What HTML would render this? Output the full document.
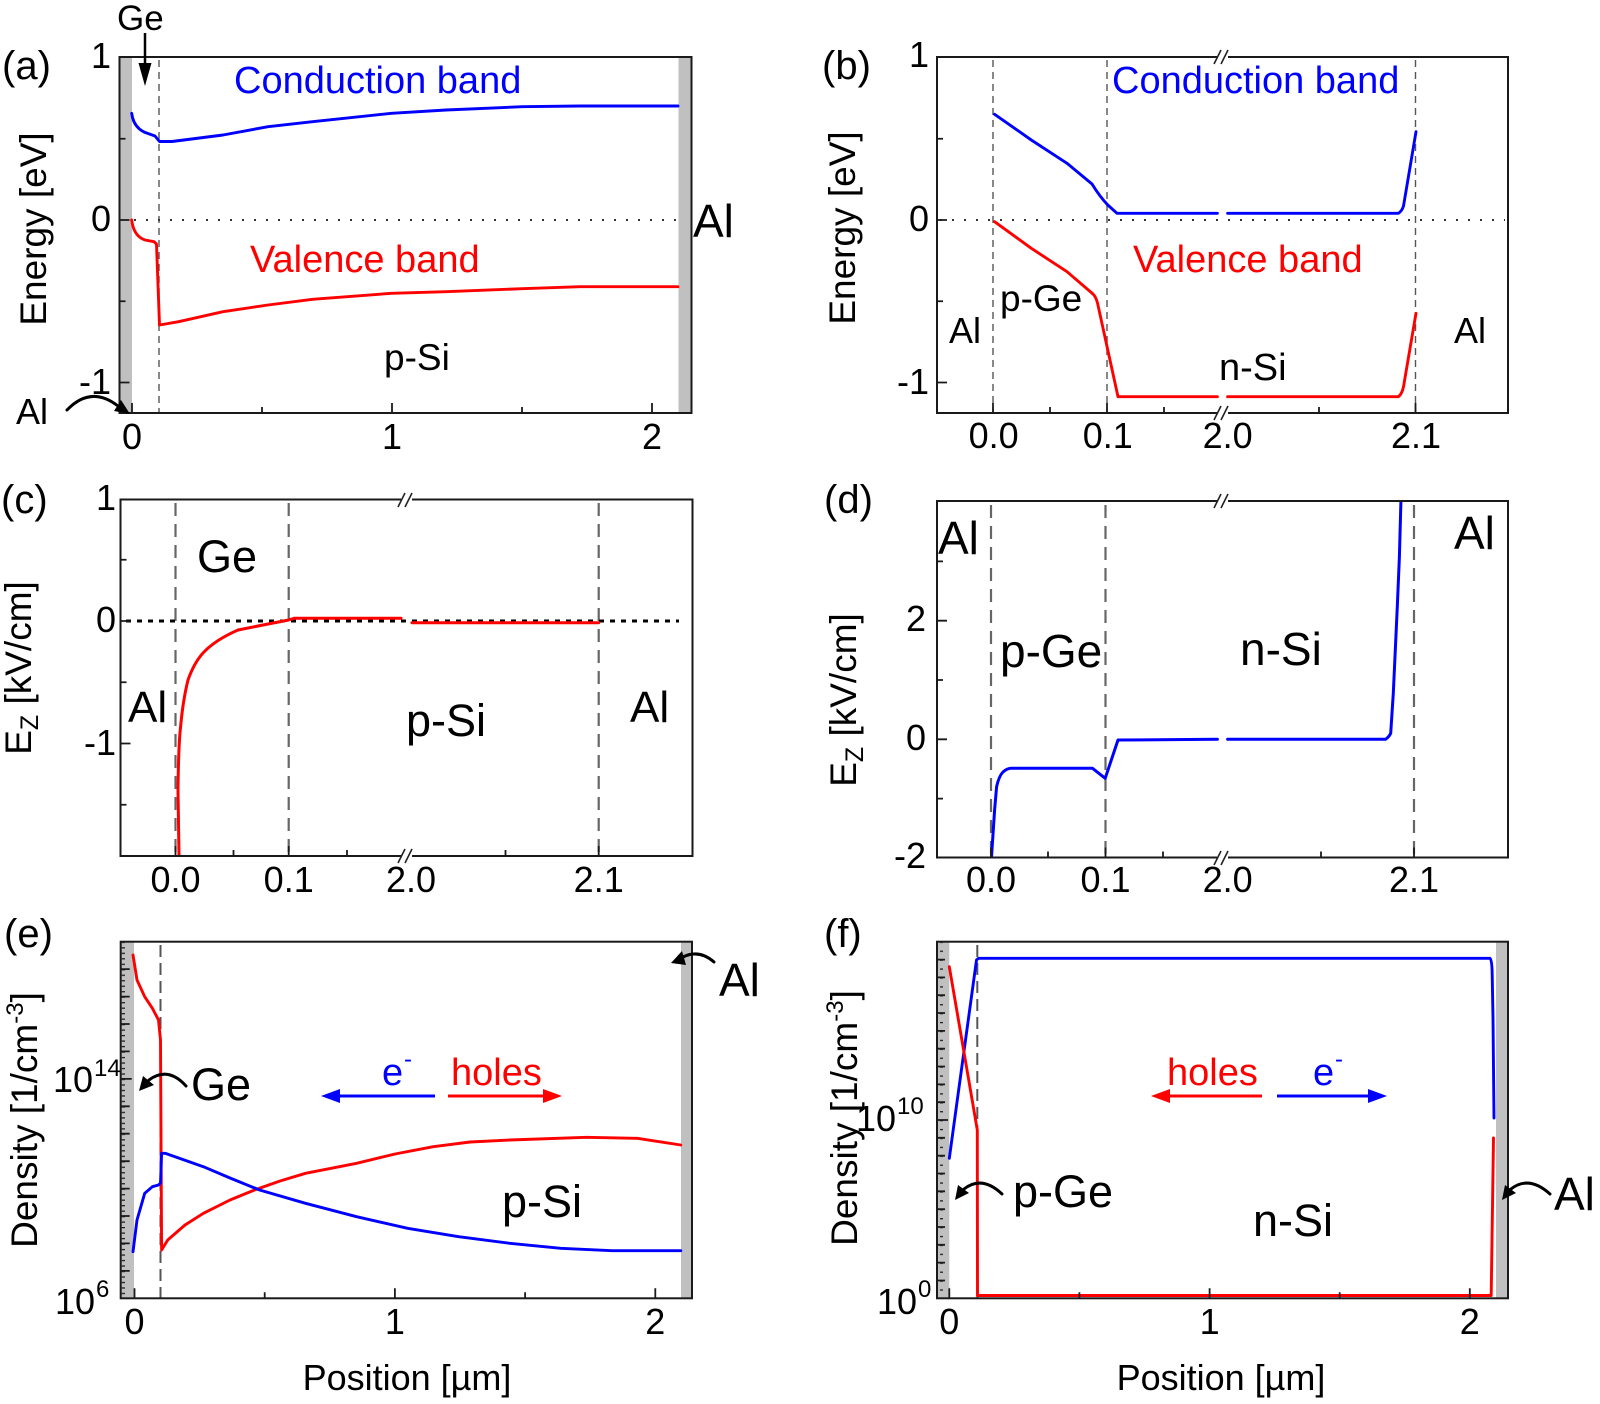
<!DOCTYPE html>
<html><head><meta charset="utf-8"><style>
html,body{margin:0;padding:0;background:#fff}
svg{display:block}
text{font-family:"Liberation Sans",Arial,sans-serif;fill:#000}
.fr{fill:none;stroke:#1a1a1a;stroke-width:2}
.tk{fill:none;stroke:#1a1a1a;stroke-width:1.8}
.b{fill:none;stroke:#0000ff;stroke-width:2.9;stroke-linejoin:round;stroke-linecap:round}
.r{fill:none;stroke:#ff0000;stroke-width:2.9;stroke-linejoin:round;stroke-linecap:round}
.g1{stroke:#555;stroke-width:1.4;stroke-dasharray:7 5;fill:none}
.g2{stroke:#666;stroke-width:2.2;stroke-dasharray:13 8;fill:none}
.dt{stroke:#333;stroke-width:2;stroke-dasharray:2 10;fill:none}
.t36{font-size:36px}
.ar{fill:none;stroke:#000;stroke-width:3;stroke-linecap:round}
</style></head><body>
<svg width="1600" height="1404" viewBox="0 0 1600 1404" xmlns="http://www.w3.org/2000/svg">
<defs>
<pattern id="pe" x="0" y="1298.3" width="20" height="5.486" patternUnits="userSpaceOnUse"><rect x="0" y="0" width="5" height="1.3" fill="#222"/></pattern>
<pattern id="pf" x="0" y="1298.3" width="20" height="8.915" patternUnits="userSpaceOnUse"><rect x="0" y="0" width="5" height="1.3" fill="#222"/></pattern>
</defs>
<rect width="1600" height="1404" fill="#fff"/>

<!-- ============ (a) ============ -->
<rect x="120.5" y="58" width="11.5" height="354" fill="#c0c0c0"/>
<rect x="678.5" y="58" width="13" height="354" fill="#c0c0c0"/>
<line class="g1" x1="159" y1="60" x2="159" y2="412"/>
<line class="dt" x1="134" y1="220" x2="678" y2="220"/>
<path class="b" d="M131.7,113.3 C133,124 139,130.5 147.3,133.3 L155,136 L159.5,141.5 L172,141.5 L223,135 L268,126.7 L312.5,121.7 L391.5,113.3 L446,110 L522,106.7 L580,106 L678,106"/>
<path class="r" d="M131.7,220 C133,231 137.5,237.5 145,240 L154,241.7 L156.5,244 L159.5,325 L178.6,321.7 L223,311.7 L268,305 L312.5,299.3 L391.5,293.3 L446,291.7 L522,288.7 L580,286.7 L678,286.7"/>
<rect class="fr" x="119.5" y="57" width="572" height="356"/>
<path class="tk" d="M132,413v-10M392,413v-10M652,413v-10M262,413v-6M522,413v-6M119.5,220h10M119.5,382.5h10M119.5,138.75h6M119.5,301.25h6"/>
<text x="2" y="79" style="font-size:40px">(a)</text>
<text class="t36" x="111" y="68" text-anchor="end">1</text>
<text class="t36" x="111" y="231" text-anchor="end">0</text>
<text class="t36" x="111" y="394" text-anchor="end">-1</text>
<text class="t36" x="132" y="449" text-anchor="middle">0</text>
<text class="t36" x="392" y="449" text-anchor="middle">1</text>
<text class="t36" x="652" y="449" text-anchor="middle">2</text>
<text transform="translate(46,229) rotate(-90)" text-anchor="middle" style="font-size:37px">Energy [eV]</text>
<text x="234" y="93" style="font-size:38px;fill:#0000ff">Conduction band</text>
<text x="250" y="272" style="font-size:38px;fill:#ff0000">Valence band</text>
<text x="384" y="370" style="font-size:37px">p-Si</text>
<text x="117" y="30" style="font-size:35px">Ge</text>
<line x1="145" y1="33" x2="145" y2="66" stroke="#000" stroke-width="2.5"/>
<polygon points="138.5,63 151.5,63 145,86" fill="#000"/>
<text x="16" y="424" style="font-size:36px">Al</text>
<path class="ar" d="M67,410 Q91,385 118,406"/>
<polygon points="130,414 114,411 121,400" fill="#000"/>
<text x="693" y="237" style="font-size:46px">Al</text>

<!-- ============ (b) ============ -->
<line class="g1" x1="993" y1="60" x2="993" y2="412"/>
<line class="g1" x1="1107" y1="60" x2="1107" y2="412"/>
<line class="g1" x1="1415.5" y1="60" x2="1415.5" y2="412"/>
<line class="dt" x1="940" y1="220" x2="1505" y2="220"/>
<path class="b" d="M994.6,114.3 L1031.3,140 L1067,163.3 L1092,184 Q1100,197 1107.8,205 L1117,213.3 L1217.4,213.3 M1227.6,213.3 L1398.4,213.3 Q1402,211 1403.5,206 L1416,131.7"/>
<path class="r" d="M994.6,221.7 L1031.3,248.3 L1067,271.7 L1093,294 Q1096,297 1097.5,303 L1118,396.7 L1217.4,396.7 M1227.6,396.7 L1398.4,396.7 Q1402,394 1403.5,386.7 L1416,313.3"/>
<rect class="fr" x="937" y="57" width="571" height="356"/>
<path class="tk" d="M993,413v-10M1107,413v-10M1415.5,413v-10M1050,413v-6M1164,413v-6M1319,413v-6M937,220h10M937,382.5h10M937,138.75h6M937,301.25h6"/>
<rect x="1217" y="50" width="11" height="14" fill="#fff"/>
<rect x="1217" y="406" width="11" height="14" fill="#fff"/>
<path d="M1214,64 L1221,50 M1221,64 L1228,50 M1214,420 L1221,406 M1221,420 L1228,406" stroke="#222" stroke-width="1.6" fill="none"/>
<text x="822" y="79" style="font-size:40px">(b)</text>
<text class="t36" x="929" y="67" text-anchor="end">1</text>
<text class="t36" x="929" y="231" text-anchor="end">0</text>
<text class="t36" x="929" y="394" text-anchor="end">-1</text>
<text class="t36" x="993.6" y="448" text-anchor="middle">0.0</text>
<text class="t36" x="1107.8" y="448" text-anchor="middle">0.1</text>
<text class="t36" x="1227.6" y="448" text-anchor="middle">2.0</text>
<text class="t36" x="1416" y="448" text-anchor="middle">2.1</text>
<text transform="translate(855,228) rotate(-90)" text-anchor="middle" style="font-size:37px">Energy [eV]</text>
<text x="1112" y="93" style="font-size:38px;fill:#0000ff">Conduction band</text>
<text x="1133" y="272" style="font-size:38px;fill:#ff0000">Valence band</text>
<text x="1000" y="311" style="font-size:37px">p-Ge</text>
<text x="949" y="343" style="font-size:36px">Al</text>
<text x="1454" y="343" style="font-size:36px">Al</text>
<text x="1219" y="380" style="font-size:38px">n-Si</text>

<!-- ============ (c) ============ -->
<line class="g2" x1="175.5" y1="503" x2="175.5" y2="856"/>
<line class="g2" x1="288.7" y1="503" x2="288.7" y2="856"/>
<line class="g2" x1="598.7" y1="503" x2="598.7" y2="856"/>
<line x1="126" y1="621" x2="679" y2="621" stroke="#000" stroke-width="3" stroke-dasharray="5 6"/>
<path class="r" style="stroke-width:3" d="M179,855 L178,790 Q178.5,745 180.6,726.7 Q183,700 188,680 Q194,663 203,653 Q215,640 238,630 L263,625 L288.7,620 L294,618.3 L401,618.3 M412,622.7 L598.7,622.7"/>
<rect class="fr" x="120.5" y="499.5" width="572" height="356.5"/>
<path class="tk" d="M175.5,856v-10M288.7,856v-10M598.7,856v-10M233.5,856v-6M347,856v-6M505.5,856v-6M120.5,621h10M120.5,743.5h10M120.5,559.75h6M120.5,682.25h6M120.5,804.75h6"/>
<rect x="401" y="493" width="11" height="14" fill="#fff"/>
<rect x="401" y="849" width="11" height="14" fill="#fff"/>
<path d="M398,507 L405,493 M405,507 L412,493 M398,863 L405,849 M405,863 L412,849" stroke="#222" stroke-width="1.6" fill="none"/>
<text x="1" y="513" style="font-size:40px">(c)</text>
<text class="t36" x="116" y="510" text-anchor="end">1</text>
<text class="t36" x="116" y="632" text-anchor="end">0</text>
<text class="t36" x="116" y="755" text-anchor="end">-1</text>
<text class="t36" x="175.5" y="892" text-anchor="middle">0.0</text>
<text class="t36" x="288.7" y="892" text-anchor="middle">0.1</text>
<text class="t36" x="411" y="892" text-anchor="middle">2.0</text>
<text class="t36" x="598.7" y="892" text-anchor="middle">2.1</text>
<text transform="translate(31,668) rotate(-90)" text-anchor="middle" style="font-size:37px">E<tspan style="font-size:25px" dy="7">Z</tspan><tspan dy="-7"> [kV/cm]</tspan></text>
<text x="197" y="572" style="font-size:45px">Ge</text>
<text x="128" y="722" style="font-size:44px">Al</text>
<text x="406" y="736" style="font-size:45px">p-Si</text>
<text x="630" y="722" style="font-size:44px">Al</text>

<!-- ============ (d) ============ -->
<line class="g2" x1="991" y1="505" x2="991" y2="857"/>
<line class="g2" x1="1105.5" y1="505" x2="1105.5" y2="857"/>
<line class="g2" x1="1414" y1="505" x2="1414" y2="857"/>
<path class="b" style="stroke-width:3" d="M991.5,857 L994.6,810 L996.6,786.7 Q999,776 1003,772 Q1007,768.5 1011,768.3 L1092.5,768.3 L1105.2,778.3 L1118,740 L1217.4,739.3 M1227.6,739.3 L1385.6,739.3 Q1389,737 1390.7,733.3 L1393.3,693.3 L1397.3,606.7 L1399.4,556.7 L1400.9,502"/>
<rect class="fr" x="937" y="501" width="571" height="356.5"/>
<path class="tk" d="M991,857.5v-10M1105.5,857.5v-10M1414,857.5v-10M1048,857.5v-6M1163,857.5v-6M1321,857.5v-6M937,620.7h10M937,739.3h10M937,561.4h6M937,680h6M937,798.6h6"/>
<rect x="1217" y="494" width="11" height="14" fill="#fff"/>
<rect x="1217" y="851" width="11" height="14" fill="#fff"/>
<path d="M1214,508 L1221,494 M1221,508 L1228,494 M1214,865 L1221,851 M1221,865 L1228,851" stroke="#222" stroke-width="1.6" fill="none"/>
<text x="824" y="513" style="font-size:40px">(d)</text>
<text class="t36" x="926" y="631" text-anchor="end">2</text>
<text class="t36" x="926" y="750" text-anchor="end">0</text>
<text class="t36" x="926" y="868" text-anchor="end">-2</text>
<text class="t36" x="991" y="892" text-anchor="middle">0.0</text>
<text class="t36" x="1105.5" y="892" text-anchor="middle">0.1</text>
<text class="t36" x="1227.6" y="892" text-anchor="middle">2.0</text>
<text class="t36" x="1414" y="892" text-anchor="middle">2.1</text>
<text transform="translate(856,700) rotate(-90)" text-anchor="middle" style="font-size:37px">E<tspan style="font-size:25px" dy="7">Z</tspan><tspan dy="-7"> [kV/cm]</tspan></text>
<text x="938" y="554" style="font-size:46px">Al</text>
<text x="1454" y="549" style="font-size:46px">Al</text>
<text x="1000" y="667" style="font-size:46px">p-Ge</text>
<text x="1240" y="665" style="font-size:46px">n-Si</text>

<!-- ============ (e) ============ -->
<rect x="121.5" y="942.5" width="12.5" height="355" fill="#c0c0c0"/>
<rect x="681" y="942.5" width="10.5" height="355" fill="#c0c0c0"/>
<line x1="160.5" y1="945" x2="160.5" y2="1298" stroke="#555" stroke-width="2" stroke-dasharray="12 6"/>
<path class="r" d="M133,955 L137,980 L144.7,996.7 L152.4,1008.3 L158.5,1020 L160.5,1040 L161.6,1250 L167.7,1240 L185,1225 L203.4,1213.3 L230,1200 L254.5,1190 L280,1181 L305.5,1173.3 L356.6,1163.3 L395,1154 L433.2,1146.7 L470,1142 L509.7,1140 L586.3,1137.3 L637.4,1138.3 L680.8,1145"/>
<path class="b" d="M133,1251.7 L137,1220 L144.7,1193.3 L152.4,1186.7 L158.5,1185 L160.5,1183 L161.6,1153.3 L165.1,1153.3 L203.4,1166.7 L230,1178 L259.6,1190 L305.5,1203.3 L356.6,1216.7 L407.6,1228.3 L458.7,1236.7 L509.7,1243.3 L560.8,1248.3 L611.9,1250.7 L680.8,1250.7"/>
<rect class="fr" x="120.7" y="941.7" width="571.3" height="356.6"/>
<rect x="121.7" y="942" width="5" height="356" fill="url(#pe)"/>
<path class="tk" d="M134.5,1298.3v-10M394.9,1298.3v-10M655.3,1298.3v-10M264.7,1298.3v-6M525.1,1298.3v-6M120.7,1270.9h9M120.7,1243.4h9M120.7,1216h9M120.7,1188.6h9M120.7,1161.2h9M120.7,1133.7h9M120.7,1106.3h9M120.7,1078.9h11M120.7,1051.4h9M120.7,1024h9M120.7,996.6h9M120.7,969.1h9"/>
<text x="4" y="947" style="font-size:40px">(e)</text>
<text x="55" y="1314" class="t36">10</text><text x="96" y="1297" style="font-size:24px">6</text>
<text x="53" y="1092" class="t36">10</text><text x="94" y="1076" style="font-size:24px">14</text>
<text class="t36" x="134.5" y="1334" text-anchor="middle">0</text>
<text class="t36" x="394.9" y="1334" text-anchor="middle">1</text>
<text class="t36" x="655.3" y="1334" text-anchor="middle">2</text>
<text class="t36" x="407" y="1390" text-anchor="middle">Position [µm]</text>
<text transform="translate(37,1120) rotate(-90)" text-anchor="middle" style="font-size:37px">Density [1/cm<tspan style="font-size:24px" dy="-14">-3</tspan><tspan dy="14">]</tspan></text>
<text x="719" y="996" style="font-size:46px">Al</text>
<path class="ar" d="M714,962 Q699,949 683,957"/>
<polygon points="671,963 682,951 686,965" fill="#000"/>
<text x="191" y="1100" style="font-size:45px">Ge</text>
<path class="ar" d="M186,1086 Q168,1066 149,1080"/>
<polygon points="139,1091 143,1076 154,1085" fill="#000"/>
<text x="382" y="1085" style="font-size:38px;fill:#0000ff">e</text><text x="404" y="1067" style="font-size:24px;fill:#0000ff">-</text>
<text x="451" y="1085" style="font-size:38px;fill:#ff0000">holes</text>
<line x1="435" y1="1096" x2="336" y2="1096" stroke="#0000ff" stroke-width="3"/>
<polygon points="321,1096 340,1089 340,1103" fill="#0000ff"/>
<line x1="448" y1="1096" x2="545" y2="1096" stroke="#ff0000" stroke-width="3"/>
<polygon points="562,1096 543,1089 543,1103" fill="#ff0000"/>
<text x="502" y="1217" style="font-size:45px">p-Si</text>

<!-- ============ (f) ============ -->
<rect x="937.5" y="942.5" width="11.8" height="355" fill="#c0c0c0"/>
<rect x="1496" y="942.5" width="11.5" height="355" fill="#c0c0c0"/>
<line x1="977.3" y1="945" x2="977.3" y2="1298" stroke="#555" stroke-width="2" stroke-dasharray="12 6"/>
<path class="b" d="M949.3,1158.3 L976.5,960 L978.5,958.3 L1490,958.3 Q1492,960 1492.2,975 L1493,1018 L1494,1118"/>
<path class="r" d="M949.3,966.7 L977.3,1130 L977.5,1295.5 L1491.2,1295.5 L1492,1240 L1493.5,1138"/>
<rect class="fr" x="937" y="941.7" width="571" height="356.6"/>
<rect x="938" y="942" width="5" height="356" fill="url(#pf)"/>
<path class="tk" d="M949.3,1298.3v-10M1209.6,1298.3v-10M1469.8,1298.3v-10M1079.4,1298.3v-6M1339.7,1298.3v-6M937,1120h11M937,1280.5h8M937,1262.6h8M937,1244.8h8M937,1227h8M937,1209.2h8M937,1191.3h8M937,1173.5h8M937,1155.7h8M937,1137.8h8M937,1102.2h8M937,1084.4h8M937,1066.5h8M937,1048.7h8M937,1030.9h8M937,1013h8M937,995.2h8M937,977.4h8M937,959.6h8"/>
<text x="824" y="947" style="font-size:40px">(f)</text>
<text x="877" y="1314" class="t36">10</text><text x="918" y="1297" style="font-size:24px">0</text>
<text x="856" y="1131" class="t36">10</text><text x="897" y="1114" style="font-size:24px">10</text>
<text class="t36" x="949.3" y="1334" text-anchor="middle">0</text>
<text class="t36" x="1209.6" y="1334" text-anchor="middle">1</text>
<text class="t36" x="1469.8" y="1334" text-anchor="middle">2</text>
<text class="t36" x="1221" y="1390" text-anchor="middle">Position [µm]</text>
<text transform="translate(857,1118) rotate(-90)" text-anchor="middle" style="font-size:37px">Density [1/cm<tspan style="font-size:24px" dy="-14">-3</tspan><tspan dy="14">]</tspan></text>
<text x="1167" y="1085" style="font-size:38px;fill:#ff0000">holes</text>
<text x="1313" y="1085" style="font-size:38px;fill:#0000ff">e</text><text x="1335" y="1067" style="font-size:24px;fill:#0000ff">-</text>
<line x1="1262" y1="1096" x2="1167" y2="1096" stroke="#ff0000" stroke-width="3"/>
<polygon points="1151,1096 1170,1089 1170,1103" fill="#ff0000"/>
<line x1="1277" y1="1096" x2="1371" y2="1096" stroke="#0000ff" stroke-width="3"/>
<polygon points="1387,1096 1368,1089 1368,1103" fill="#0000ff"/>
<text x="1013" y="1207" style="font-size:45px">p-Ge</text>
<path class="ar" d="M1002,1194 Q982,1175 964,1189"/>
<polygon points="955,1200 958,1185 969,1193" fill="#000"/>
<text x="1253" y="1236" style="font-size:45px">n-Si</text>
<text x="1554" y="1210" style="font-size:46px">Al</text>
<path class="ar" d="M1550,1194 Q1529,1175 1511,1189"/>
<polygon points="1502,1200 1505,1185 1516,1193" fill="#000"/>
</svg>
</body></html>
